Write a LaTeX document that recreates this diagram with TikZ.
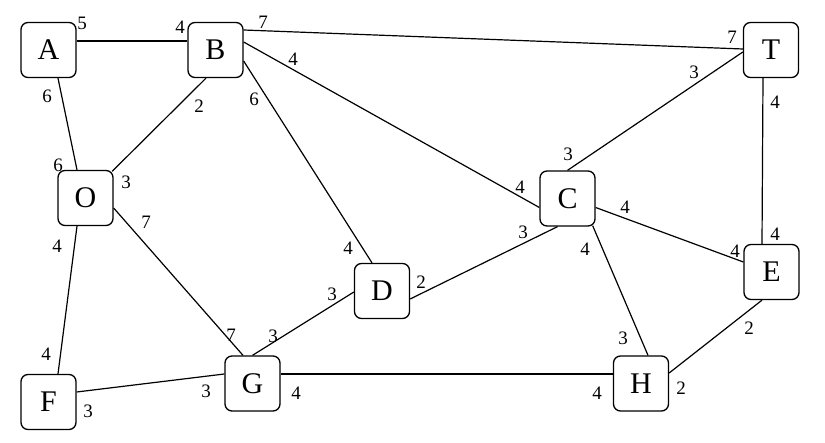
\documentclass[tikz,border=0pt]{standalone}
\usepackage{fontspec}
\setmainfont{Liberation Serif}
\usetikzlibrary{calc}
\newcommand\myvfont{\fontsize{30pt}{32pt}\selectfont}
\newcommand\mywfont{\fontsize{19pt}{21pt}\selectfont}
\begin{document}
\begin{tikzpicture}[x=1pt,y=-1pt,
  vbox/.style={draw, line width=1.3pt, rounded corners=7pt, minimum width=55pt, minimum height=55pt, inner sep=0pt, font=\myvfont, fill=white},
  edge/.style={line width=1.2pt},
  wt/.style={inner sep=0pt, font=\mywfont}]
\useasboundingbox (0,0) rectangle (825,443);
% nodes
\node[vbox] (A) at (48.5,50) {A};
\node[vbox] (B) at (215.5,50) {B};
\node[vbox] (T) at (771,50) {T};
\node[vbox] (O) at (85.5,198) {O};
\node[vbox] (C) at (567.5,198.5) {C};
\node[vbox] (D) at (382,291) {D};
\node[vbox] (E) at (771.5,272) {E};
\node[vbox] (F) at (48.5,402) {F};
\node[vbox] (G) at (252.5,383.5) {G};
\node[vbox] (H) at (641,383.5) {H};
% edges
\draw[edge] ($(A.east)+(0,-9)$) -- ($(B.west)+(0,-9)$);
\draw[edge] ($(A.south)+(9.5,0)$) -- ($(O.north)+(-8.5,0)$);
\draw[edge] ($(B.south)+(-9.5,0)$) -- ($(O.north east)+(-1.5,1.5)$);
\draw[edge] ($(B.east)+(0,-20)$) -- ($(T.west)+(0,-1)$);
\draw[edge] ($(B.east)+(0,-8)$) -- ($(C.west)+(0,9)$);
\draw[edge] ($(B.east)+(0,11)$) -- ($(D.north)+(-10,0)$);
\draw[edge] ($(T.west)+(0,2)$) -- (C.north);
\draw[edge] ($(T.south)+(-8,0)$) -- ($(E.north)+(-9.5,0)$);
\draw[edge] ($(C.east)+(0,9)$) -- ($(E.west)+(0,-10)$);
\draw[edge] ($(C.south)+(-10,0)$) -- ($(D.east)+(0,8)$);
\draw[edge] ($(C.south east)+(-3,-1)$) -- ($(H.north)+(7,0)$);
\draw[edge] ($(O.east)+(0,10)$) -- ($(G.north)+(-9.5,0)$);
\draw[edge] ($(O.south)+(-8.5,0)$) -- ($(F.north)+(9.5,0)$);
\draw[edge] ($(D.west)+(0,1)$) -- (G.north);
\draw[edge] ($(F.east)+(0,-10)$) -- ($(G.west)+(0,-9.5)$);
\draw[edge] ($(G.east)+(0,-9.5)$) -- ($(H.west)+(0,-9.5)$);
\draw[edge] ($(H.east)+(0,-10.5)$) -- ($(E.south)+(-9.5,0)$);
% weights
\node[wt] (w1) at (82,23) {5};
\node[wt] (w2) at (180,27) {4};
\node[wt] (w3) at (263,22) {7};
\node[wt] (w4) at (293,59) {4};
\node[wt] (w5) at (254,99) {6};
\node[wt] (w6) at (199,106) {2};
\node[wt] (w7) at (47,96) {6};
\node[wt] (w8) at (58,165) {6};
\node[wt] (w9) at (126,182) {3};
\node[wt] (w10) at (146,222) {7};
\node[wt] (w11) at (732,37) {7};
\node[wt] (w12) at (694,72) {3};
\node[wt] (w13) at (775,102) {4};
\node[wt] (w14) at (568,154) {3};
\node[wt] (w15) at (520,187) {4};
\node[wt] (w16) at (625,207) {4};
\node[wt] (w17) at (57,246) {4};
\node[wt] (w18) at (348,248) {4};
\node[wt] (w19) at (421,282) {2};
\node[wt] (w20) at (332,294) {3};
\node[wt] (w21) at (46,354) {4};
\node[wt] (w22) at (231,335) {7};
\node[wt] (w23) at (273,336) {3};
\node[wt] (w24) at (206,391) {3};
\node[wt] (w25) at (296,393) {4};
\node[wt] (w26) at (88,411) {3};
\node[wt] (w27) at (523,232) {3};
\node[wt] (w28) at (585,249) {4};
\node[wt] (w29) at (735,251) {4};
\node[wt] (w30) at (775,234) {4};
\node[wt] (w31) at (749,328) {2};
\node[wt] (w32) at (623,338) {3};
\node[wt] (w33) at (597,393) {4};
\node[wt] (w34) at (681,388) {2};
\end{tikzpicture}
\end{document}
